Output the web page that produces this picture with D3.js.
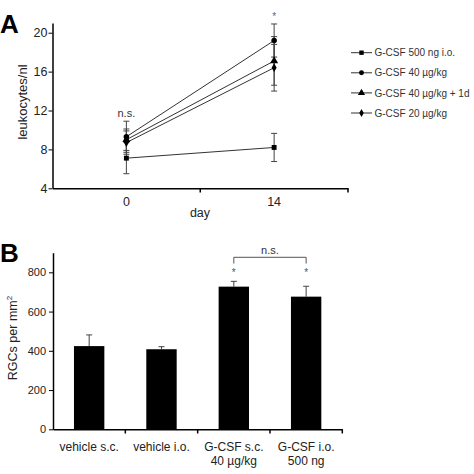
<!DOCTYPE html>
<html>
<head>
<meta charset="utf-8">
<script src="https://cdn.jsdelivr.net/npm/d3@7"></script>
<style>
  body { margin: 0; background: #fff; }
  svg { font-family: "Liberation Sans", Arial, sans-serif; }
</style>
</head>
<body>
<div id="chart"></div>
<script>
/* Two panels: leukocyte time course (A) and RGC density bars (B) */

// panel A data
const days = ["0", "14"];
const seriesNames = ["G-CSF 500 ng i.o.", "G-CSF 40 µg/kg", "G-CSF 40 µg/kg + 1d", "G-CSF 20 µg/kg"];
const leukoMeans = [[7.1, 8.2], [9.3, 19.2], [9.0, 17.1], [8.7, 16.4]];
const leukoErrs = [[1.6, 1.45], [1.6, 1.7], [1.1, 2.5], [1.2, 2.4]];
const yTicksA = [4, 8, 12, 16, 20];

// panel B data
const groups = ["vehicle s.c.", "vehicle i.o.", "G-CSF s.c.|40 µg/kg", "G-CSF i.o.|500 ng"];
const rgcMeans = [424, 408, 727, 676];
const rgcErrs = [57, 13, 27, 53];
const yTicksB = [0, 200, 400, 600, 800];

const width = 474, height = 474;

let svg = d3.select("#chart")
    .append("svg")
    .attr("width", width)
    .attr("height", height);

const symbols = [d3.symbolSquare, d3.symbolCircle, d3.symbolTriangle, d3.symbolDiamond];
const symSize = [24, 24, 28, 22];

/* ---------- panel A ---------- */

let xA = d3.scaleBand()
    .domain(days)
    .range([52.5, 348])
    .padding(0);

let yA = d3.scaleLinear()
    .domain([4, 21])
    .range([188.3, 23]);

let axA = svg.append("g")
    .attr("transform", "translate(52.5,0)")
    .call(d3.axisLeft(yA).tickValues(yTicksA).tickSize(4).tickSizeOuter(0).tickPadding(1));
axA.selectAll("text").style("font-size", "12.5px").attr("fill", "#222");
axA.select(".domain").attr("stroke-width", 1.5);

let axAx = svg.append("g")
    .attr("transform", "translate(0,188.3)")
    .call(d3.axisBottom(xA).tickSize(0).tickSizeOuter(0).tickPadding(9));
axAx.selectAll("text").style("font-size", "12.5px").attr("fill", "#222");
axAx.select(".domain").attr("stroke-width", 1.5);

// ticks sit between the days
svg.append("g").selectAll("line")
    .data(days)
    .join("line")
    .attr("x1", d => xA(d) + xA.bandwidth())
    .attr("x2", d => xA(d) + xA.bandwidth())
    .attr("y1", 188.3)
    .attr("y2", 192.5)
    .attr("stroke", "#000")
    .attr("stroke-width", 1.5);

svg.append("text")
    .attr("x", 200).attr("y", 217)
    .attr("text-anchor", "middle")
    .style("font-size", "12.5px")
    .attr("fill", "#222")
    .text("day");

svg.append("text")
    .attr("transform", "translate(27,102) rotate(-90)")
    .attr("text-anchor", "middle")
    .style("font-size", "13px")
    .attr("fill", "#222")
    .text("leukocytes/nl");

let cx = d => xA(d) + xA.bandwidth() / 2;

// lines
let line = d3.line()
    .x((d, i) => cx(days[i]))
    .y(d => yA(d));

svg.append("g").selectAll("path")
    .data(leukoMeans)
    .join("path")
    .attr("d", d => line(d))
    .attr("fill", "none")
    .attr("stroke", "#333")
    .attr("stroke-width", 1);

// error bars
leukoMeans.forEach((s, k) => {
    s.forEach((v, i) => {
        let e = leukoErrs[k][i], x = cx(days[i]);
        let g = svg.append("g").attr("stroke", "#444").attr("stroke-width", 1);
        g.append("line").attr("x1", x).attr("x2", x).attr("y1", yA(v - e)).attr("y2", yA(v + e));
        g.append("line").attr("x1", x - 3).attr("x2", x + 3).attr("y1", yA(v - e)).attr("y2", yA(v - e));
        g.append("line").attr("x1", x - 3).attr("x2", x + 3).attr("y1", yA(v + e)).attr("y2", yA(v + e));
    });
});

// markers
leukoMeans.forEach((s, k) => {
    svg.append("g").selectAll("path")
        .data(s)
        .join("path")
        .attr("transform", (d, i) => `translate(${cx(days[i])},${yA(d)})`)
        .attr("d", d3.symbol(symbols[k], symSize[k]))
        .attr("fill", "#000");
});

svg.append("text")
    .attr("x", cx("0")).attr("y", 117)
    .attr("text-anchor", "middle")
    .style("font-size", "11px")
    .attr("fill", "#333")
    .text("n.s.");

svg.append("text")
    .attr("x", cx("14")).attr("y", 20)
    .attr("text-anchor", "middle")
    .style("font-size", "10px")
    .attr("fill", "#666")
    .text("*");

// legend
let leg = svg.append("g").selectAll("g")
    .data(seriesNames)
    .join("g")
    .attr("transform", (d, i) => `translate(351,${52.7 + i * 20.1})`);

leg.append("line")
    .attr("x1", 0).attr("x2", 21)
    .attr("stroke", "#333").attr("stroke-width", 1);

leg.append("path")
    .attr("transform", "translate(10.5,0)")
    .attr("d", (d, i) => d3.symbol(symbols[i], symSize[i] * 0.8)())
    .attr("fill", "#000");

leg.append("text")
    .attr("x", 23.5).attr("y", 3.6)
    .style("font-size", "10px")
    .attr("fill", "#333")
    .text(d => d);

/* ---------- panel B ---------- */

let xB = d3.scaleBand()
    .domain(groups)
    .range([53, 342.3])
    .paddingInner(0.58)
    .paddingOuter(0.29);

let yB = d3.scaleLinear()
    .domain([0, 900])
    .range([429.3, 252.7]);

let axB = svg.append("g")
    .attr("transform", "translate(53,0)")
    .call(d3.axisLeft(yB).tickValues(yTicksB).tickSize(4).tickSizeOuter(0).tickPadding(3));
axB.selectAll("text").style("font-size", "11px").attr("fill", "#222");
axB.select(".domain").attr("stroke-width", 1.5);

let axBx = svg.append("g")
    .attr("transform", "translate(0,429.3)")
    .call(d3.axisBottom(xB).tickSize(0).tickSizeOuter(0).tickFormat(""));
axBx.select(".domain").attr("stroke-width", 1.5);

let stepB = xB.step();
svg.append("g").selectAll("line")
    .data(groups)
    .join("line")
    .attr("x1", (d, i) => 53 + (i + 1) * stepB)
    .attr("x2", (d, i) => 53 + (i + 1) * stepB)
    .attr("y1", 429.3)
    .attr("y2", 433.5)
    .attr("stroke", "#000")
    .attr("stroke-width", 1.5);

// two line category labels
let lab = svg.append("g").selectAll("text")
    .data(groups)
    .join("text")
    .attr("x", d => xB(d) + xB.bandwidth() / 2)
    .attr("y", 450.5)
    .attr("text-anchor", "middle")
    .style("font-size", "12px")
    .attr("fill", "#222");

lab.selectAll("tspan")
    .data(d => d.split("|"))
    .join("tspan")
    .attr("x", function() { return d3.select(this.parentNode).attr("x"); })
    .attr("dy", (d, i) => i === 0 ? 0 : 14)
    .text(d => d);

let rgcTxt = svg.append("text")
    .attr("transform", "translate(17,338) rotate(-90)")
    .attr("text-anchor", "middle")
    .style("font-size", "12.5px")
    .attr("fill", "#222");
rgcTxt.append("tspan").text("RGCs per mm");
rgcTxt.append("tspan").attr("dy", -5).style("font-size", "8px").text("2");

// error bars (upper only)
let eb = svg.append("g").attr("stroke", "#444").attr("stroke-width", 1);
groups.forEach((g, i) => {
    let x = xB(g) + xB.bandwidth() / 2;
    eb.append("line").attr("x1", x).attr("x2", x).attr("y1", yB(rgcMeans[i])).attr("y2", yB(rgcMeans[i] + rgcErrs[i]));
    eb.append("line").attr("x1", x - 3).attr("x2", x + 3)
        .attr("y1", yB(rgcMeans[i] + rgcErrs[i])).attr("y2", yB(rgcMeans[i] + rgcErrs[i]));
});

svg.append("g").selectAll("rect")
    .data(rgcMeans)
    .join("rect")
    .attr("x", (d, i) => xB(groups[i]))
    .attr("width", xB.bandwidth())
    .attr("y", d => yB(d))
    .attr("height", d => yB(0) - yB(d))
    .attr("fill", "#000");

// significance marks
[2, 3].forEach(i => {
    svg.append("text")
        .attr("x", xB(groups[i]) + xB.bandwidth() / 2)
        .attr("y", 276)
        .attr("text-anchor", "middle")
        .style("font-size", "10px")
        .attr("fill", "#555")
        .text("*");
});

let bx1 = xB(groups[2]) + xB.bandwidth() / 2, bx2 = xB(groups[3]) + xB.bandwidth() / 2;
svg.append("path")
    .attr("d", `M${bx1},263.5V257.3H${bx2}V263.5`)
    .attr("fill", "none")
    .attr("stroke", "#555")
    .attr("stroke-width", 1);

svg.append("text")
    .attr("x", (bx1 + bx2) / 2).attr("y", 253.5)
    .attr("text-anchor", "middle")
    .style("font-size", "11px")
    .attr("fill", "#333")
    .text("n.s.");

// panel letters
svg.append("text")
    .attr("x", 0).attr("y", 33)
    .style("font-size", "26px").style("font-weight", "bold")
    .text("A");

svg.append("text")
    .attr("x", 0).attr("y", 262)
    .style("font-size", "26px").style("font-weight", "bold")
    .text("B");
</script>
</body>
</html>
